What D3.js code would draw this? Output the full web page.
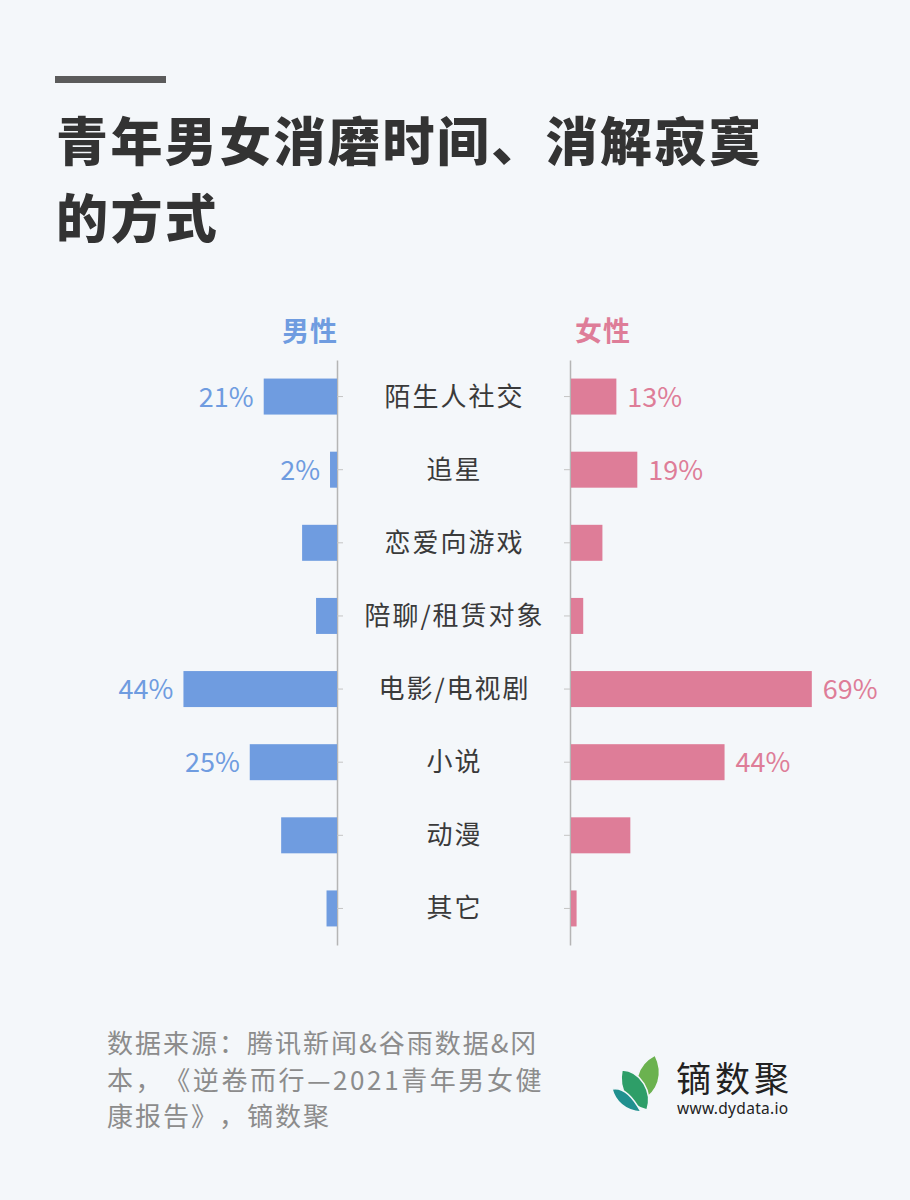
<!DOCTYPE html>
<html>
<head>
<meta charset="utf-8">
<script src="https://cdn.jsdelivr.net/npm/d3@7/dist/d3.min.js"></script>
<style>
  html, body { margin: 0; padding: 0; background: #f4f7fa; }
  svg { display: block; font-family: "Noto Sans CJK SC", "Noto Sans", sans-serif; text-spacing-trim: space-all; }
</style>
</head>
<body>
<svg id="chart" width="910" height="1200"></svg>
<script>
// ---- data ----
const titleLines = ["青年男女消磨时间、消解寂寞", "的方式"];
const categories = ["陌生人社交", "追星", "恋爱向游戏", "陪聊/租赁对象", "电影/电视剧", "小说", "动漫", "其它"];
const maleValues = [21, 2, 10, 6, 44, 25, 16, 3];
const femaleValues = [13, 19, 9, 3.5, 69, 44, 17, 1.6];
const maleLabels = ["21%", "2%", "", "", "44%", "25%", "", ""];
const femaleLabels = ["13%", "19%", "", "", "69%", "44%", "", ""];
const seriesNames = ["男性", "女性"];
const sourceLines = ["数据来源：腾讯新闻&谷雨数据&冈", "本，《逆卷而行—2021青年男女健", "康报告》，镝数聚"];

// ---- setup ----
const svg = d3.select("#chart");
const W = 910, H = 1200;
svg.append("rect").attr("width", W).attr("height", H).attr("fill", "#f4f7fa");

const maleColor = "#6f9ce0";
const femaleColor = "#de7d98";
const maleAxisX = 337;
const femaleAxisX = 570;

// header bar + title
svg.append("rect").attr("x", 55).attr("y", 76).attr("width", 111).attr("height", 7).attr("fill", "#5b5b5b");
svg.selectAll("text.title").data(titleLines).join("text")
  .attr("class", "title")
  .attr("x", 56)
  .attr("y", (d, i) => 161 + i * 77)
  .attr("font-size", 52)
  .attr("font-weight", 900)
  .attr("letter-spacing", 2.4)
  .attr("fill", "#333333")
  .text(d => d);

// scales
const y = d3.scaleBand().domain(categories).range([360, 945]).paddingInner(0.5).paddingOuter(0.25);
const x = d3.scaleLinear().domain([0, 100]).range([0, 349]);

// axes (vertical lines with small ticks)
const maleAxis = d3.axisRight(y).tickSize(6).tickSizeOuter(0).tickFormat("");
const femaleAxis = d3.axisLeft(y).tickSize(6).tickSizeOuter(0).tickFormat("");
function styleAxis(g) {
  g.select(".domain").attr("stroke", "#b5b5b5").attr("stroke-width", 1.5);
  g.selectAll(".tick line").attr("stroke", "#c4c4c4").attr("stroke-width", 1);
}
svg.append("g").attr("transform", `translate(${maleAxisX},0)`).call(maleAxis).call(styleAxis);
svg.append("g").attr("transform", `translate(${femaleAxisX},0)`).call(femaleAxis).call(styleAxis);

const bh = 36;
const cy = d => y(d) + y.bandwidth() / 2;

// male bars
svg.selectAll("rect.male").data(categories).join("rect")
  .attr("class", "male")
  .attr("x", (d, i) => maleAxisX - x(maleValues[i]))
  .attr("y", d => cy(d) - bh / 2)
  .attr("width", (d, i) => x(maleValues[i]))
  .attr("height", bh)
  .attr("fill", maleColor);

// female bars
svg.selectAll("rect.female").data(categories).join("rect")
  .attr("class", "female")
  .attr("x", femaleAxisX + 1)
  .attr("y", d => cy(d) - bh / 2)
  .attr("width", (d, i) => x(femaleValues[i]))
  .attr("height", bh)
  .attr("fill", femaleColor);

// value labels
svg.selectAll("text.mlab").data(categories).join("text")
  .attr("class", "mlab")
  .attr("x", (d, i) => maleAxisX - x(maleValues[i]) - 10)
  .attr("y", d => cy(d) + 10)
  .attr("text-anchor", "end")
  .attr("font-size", 27)
  .attr("fill", maleColor)
  .text((d, i) => maleLabels[i]);

svg.selectAll("text.flab").data(categories).join("text")
  .attr("class", "flab")
  .attr("x", (d, i) => femaleAxisX + 1 + x(femaleValues[i]) + 11)
  .attr("y", d => cy(d) + 10)
  .attr("text-anchor", "start")
  .attr("font-size", 27)
  .attr("fill", femaleColor)
  .text((d, i) => femaleLabels[i]);

// category labels
svg.selectAll("text.cat").data(categories).join("text")
  .attr("class", "cat")
  .attr("x", (maleAxisX + femaleAxisX) / 2 + 1)
  .attr("y", d => cy(d) + 9)
  .attr("text-anchor", "middle")
  .attr("font-size", 26)
  .attr("letter-spacing", 2)
  .attr("fill", "#3a3a3a")
  .text(d => d);

// series headers
svg.append("text").attr("x", maleAxisX + 1).attr("y", 341).attr("text-anchor", "end")
  .attr("font-size", 27).attr("font-weight", 700).attr("letter-spacing", 1).attr("fill", maleColor).text(seriesNames[0]);
svg.append("text").attr("x", femaleAxisX + 5).attr("y", 341).attr("text-anchor", "start")
  .attr("font-size", 27).attr("font-weight", 700).attr("letter-spacing", 1).attr("fill", femaleColor).text(seriesNames[1]);

// source
svg.selectAll("text.src").data(sourceLines).join("text")
  .attr("class", "src")
  .attr("x", 107)
  .attr("y", (d, i) => 1053 + i * 36.5)
  .attr("font-size", 26)
  .attr("letter-spacing", (d, i) => i === 1 ? 2.6 : 2)
  .attr("fill", "#8c8c8c")
  .text(d => d);

// logo
const logo = svg.append("g").attr("stroke", "#f4f7fa").attr("stroke-width", 1.5);
logo.append("path").attr("d", "M655,1055 C665,1075 657,1092 643,1100 C632,1085 636,1065 655,1055 Z").attr("fill", "#6bb24f");
logo.append("path").attr("d", "M622,1070 C641,1071 653,1092 647,1110 C629,1106 618,1090 622,1070 Z").attr("fill", "#2e9e68");
logo.append("path").attr("d", "M612,1089 C622,1087 631,1093 641,1112 C625,1111 615,1101 612,1089 Z").attr("fill", "#20908f");
svg.append("text").attr("x", 676).attr("y", 1092).attr("font-size", 35).attr("font-weight", 400).attr("letter-spacing", 4)
  .attr("fill", "#222222").text("镝数聚");
svg.append("text").attr("x", 677).attr("y", 1114).attr("font-size", 15.5).attr("letter-spacing", 0.3)
  .attr("font-family", "Noto Sans, sans-serif")
  .attr("fill", "#222222").text("www.dydata.io");
</script>
</body>
</html>
